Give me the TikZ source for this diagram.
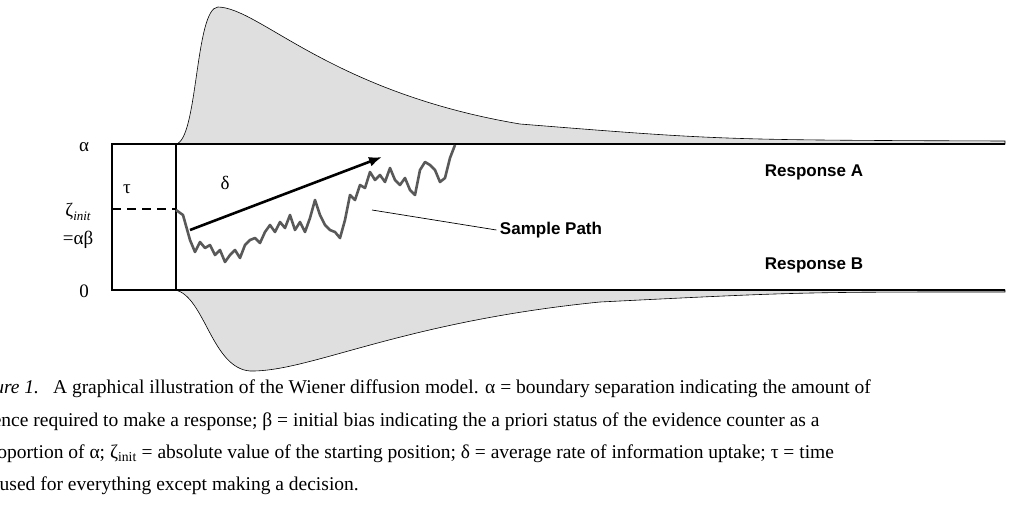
\documentclass[tikz,border=0pt]{standalone}
\usepackage{fontspec}
\usetikzlibrary{arrows.meta}
\setmainfont{Liberation Serif}
\newfontfamily\lsans{Liberation Sans}
\begin{document}
\begin{tikzpicture}[x=1pt,y=-1pt,
  lbl/.style={font=\lsans\fontsize{17}{20}\selectfont\bfseries},
  captxt/.style={anchor=base west,inner sep=0,font=\fontsize{19.5}{22}\selectfont},
  greek/.style={font=\fontsize{19}{22}\selectfont},
  dist/.style={fill=gray!25,draw=black,line width=0.6pt}]
\useasboundingbox (0,0) rectangle (1010,530);
\clip (0,0) rectangle (1010,530);
\fill[white] (0,0) rectangle (1010,530);
% distributions
\path[dist] (176,144) .. controls (198,140) and (195,8) .. (218,7) .. controls (260,8) and (330,92) .. (520,124) .. controls (720,140) .. (1005,141) -- (1005,144) -- cycle;
\path[dist] (176,290) .. controls (205,298) and (212,368) .. (250,371) .. controls (310,372) and (400,322) .. (600,302) .. controls (800,292) .. (1005,292) -- (1005,290) -- cycle;
% frame
\coordinate (tl) at (112,144); \coordinate (bl) at (112,290);
\coordinate (tm) at (176,144); \coordinate (bm) at (176,290);
\coordinate (tr) at (1005,144); \coordinate (br) at (1005,290);
\draw[line width=2.4pt] (tr) -- (tl) -- (bl) -- (br);
\draw[line width=2.4pt] (tm) -- (bm);
\coordinate (zl) at (112,209); \coordinate (zr) at (176,209);
\draw[line width=2.2pt,dash pattern=on 9pt off 6pt] (zl) -- (zr);
% sample path
\draw[gray!70!black,line width=2.6pt,line join=round] (176,210) -- (183,215) -- (190,240) -- (195,252) -- (200,242) -- (205,248) -- (210,245) -- (215,255) -- (220,250) -- (225,262) -- (230,255) -- (235,250) -- (240,258) -- (245,245) -- (250,240) -- (255,238) -- (260,243) -- (265,232) -- (270,225) -- (275,232) -- (280,222) -- (285,228) -- (290,215) -- (295,230) -- (300,222) -- (305,232) -- (310,218) -- (315,200) -- (320,215) -- (325,225) -- (330,230) -- (335,232) -- (340,238) -- (345,220) -- (350,195) -- (355,200) -- (360,185) -- (365,188) -- (370,172) -- (375,180) -- (380,175) -- (385,182) -- (390,168) -- (395,180) -- (400,185) -- (405,178) -- (410,190) -- (415,195) -- (420,170) -- (425,162) -- (430,165) -- (435,170) -- (440,182) -- (445,178) -- (450,158) -- (455,145);
% drift arrow
\coordinate (a0) at (190,230); \coordinate (a1) at (382,157);
\draw[line width=2.6pt,-{Latex[length=13pt,width=10pt]}] (a0) -- (a1);
% labels
\node[greek] (alpha) at (84,147) {α};
\node[greek] (zeta) at (78,212) {ζ\raisebox{-4pt}{\fontsize{13}{14}\selectfont\itshape init}};
\node[greek] (ab) at (78,240) {=αβ};
\node[greek] (zero) at (84,291) {0};
\node[greek] (tau) at (127,189) {τ};
\node[greek] (delta) at (225,183) {δ};
\node[lbl] (sp) at (551,230) {Sample Path};
\coordinate (sp0) at (372,210);
\draw[line width=0.7pt] (sp0) -- (sp.west);
\node[lbl] (ra) at (814,172) {Response A};
\node[lbl] (rb) at (814,265) {Response B};
% caption
\node[captxt] (c1) at (-33,393) {\textit{Figure 1.}\hspace{14pt}A graphical illustration of the Wiener diffusion model. α = boundary separation indicating the amount of};
\node[captxt] (c2) at (-41,426) {evidence required to make a response; β = initial bias indicating the a priori status of the evidence counter as a};
\node[captxt] (c3) at (-19,458) {proportion of α; ζ\textsubscript{init} = absolute value of the starting position; δ = average rate of information uptake; τ = time};
\node[captxt] (c4) at (-40,490) {time used for everything except making a decision.};
\end{tikzpicture}
\end{document}
